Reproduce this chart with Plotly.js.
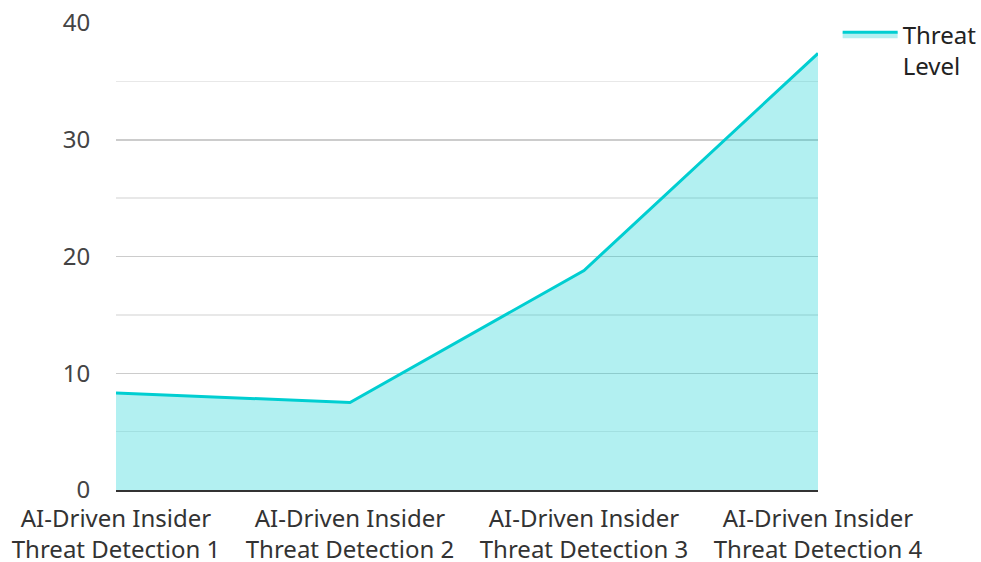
<!DOCTYPE html>
<html>
<head>
<meta charset="utf-8">
<script src="https://cdn.plot.ly/plotly-3.0.1.min.js"></script>
<style>html,body{margin:0;padding:0;background:#fff;}#chart{width:981px;height:562px;}</style>
</head>
<body>
<div id="chart"></div>
<script>
const categories = [
  "AI-Driven Insider<br>Threat Detection 1",
  "AI-Driven Insider<br>Threat Detection 2",
  "AI-Driven Insider<br>Threat Detection 3",
  "AI-Driven Insider<br>Threat Detection 4"
];
const threatLevel = [8.3, 7.5, 18.8, 37.4];
const seriesName = "Threat<br>Level";
const yTicks = [0, 10, 20, 30, 40];

const trace = {
  x: categories,
  y: threatLevel,
  type: 'scatter',
  mode: 'lines',
  name: seriesName,
  fill: 'tozeroy',
  fillcolor: 'rgba(0,206,209,0.3)',
  line: {color: '#00CED1', width: 3}
};

const layout = {
  width: 981, height: 562,
  margin: {l: 116, r: 163, t: 23, b: 72, autoexpand: false},
  paper_bgcolor: '#fff', plot_bgcolor: '#fff',
  font: {family: '"Noto Sans", "Open Sans", sans-serif', size: 24, color: '#333'},
  showlegend: true,
  legend: {x: 1.028, y: 1.023, xanchor: 'left', yanchor: 'top', valign: 'top',
           itemwidth: 55, font: {size: 24, color: '#222'}},
  xaxis: {
    type: 'category', range: [0, 3], showgrid: false, zeroline: false,
    showline: true, linecolor: '#333', linewidth: 2, automargin: false,
    ticks: 'outside', ticklen: 6, tickcolor: 'rgba(0,0,0,0)',
    tickfont: {size: 24, color: '#333'}
  },
  yaxis: {
    range: [0, 40], tickvals: yTicks, ticktext: yTicks.map(String),
    showgrid: true, gridcolor: '#ccc', gridwidth: 1.5, automargin: false,
    zeroline: false, showline: false,
    ticks: 'outside', ticklen: 20, tickcolor: 'rgba(0,0,0,0)',
    tickfont: {size: 24, color: '#444'},
    minor: {dtick: 5, showgrid: true, gridcolor: '#e8e8e8', gridwidth: 1.5}
  }
};

Plotly.newPlot('chart', [trace], layout, {displayModeBar: false, staticPlot: true});
</script>
</body>
</html>
